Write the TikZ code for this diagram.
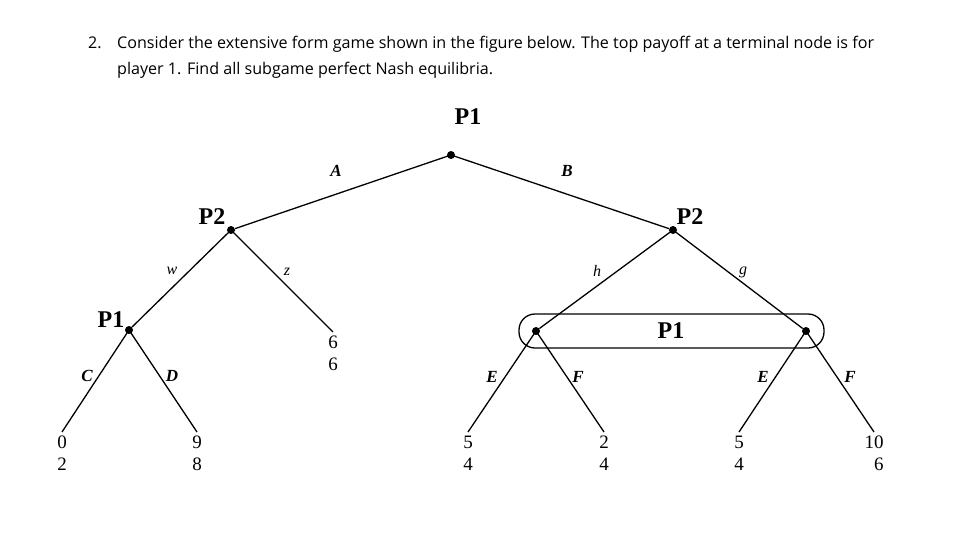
\documentclass[tikz,border=0pt]{standalone}
\usepackage{fontspec}
\setmainfont{Liberation Serif}
\newfontfamily\titlefont{Open Sans}
\begin{document}
\begin{tikzpicture}[x=1pt,y=-1pt,
  dotn/.style={circle,fill=black,inner sep=0pt,minimum size=8pt},
  plab/.style={font=\fontsize{24}{24}\selectfont\bfseries,inner sep=0pt},
  alab/.style={font=\fontsize{17}{17}\selectfont\bfseries\itshape,inner sep=0pt},
  slab/.style={font=\fontsize{16}{16}\selectfont\itshape,inner sep=0pt},
  pay/.style={font=\fontsize{19}{22}\selectfont,inner sep=0pt,align=center,anchor=north},
  ttl/.style={anchor=base west,inner sep=0pt,font=\titlefont\fontsize{16.1}{16.1}\selectfont},
  edge/.style={line width=1.3pt}]
\useasboundingbox (0,0) rectangle (964,536);
\node[ttl] (t1) at (88,48) {2.};
\node[ttl] (t2) at (117,48) {Consider the extensive form game shown in the figure below. The top payoff at a terminal node is for};
\node[ttl] (t3) at (117,74) {player 1. Find all subgame perfect Nash equilibria.};
% info set
\draw[line width=1.3pt,rounded corners=16pt] (519,314) rectangle (824,348);
\node[plab] (is) at (671,331) {P1};
% nodes
\node[dotn] (r) at (451,155) {};
\node[dotn] (p2l) at (231,230) {};
\node[dotn] (p1l) at (129,330) {};
\node[dotn] (p2r) at (673,230) {};
\node[dotn] (il) at (536,331) {};
\node[dotn] (ir) at (806,331) {};
\coordinate (lc) at (62,432);
\coordinate (ld) at (197,432);
\coordinate (lz) at (333,332);
\coordinate (le1) at (468,432);
\coordinate (lf1) at (604,432);
\coordinate (le2) at (739,432);
\coordinate (lf2) at (874,432);
\node[plab] (rl) at (468,117) {P1};
\node[plab] (p2ll) at (212,217) {P2};
\node[plab] (p1ll) at (111,320) {P1};
\node[plab] (p2rl) at (690,217) {P2};
\foreach \a/\b in {r/p2l,r/p2r,p2l/p1l,p2l/lz,p1l/lc,p1l/ld,p2r/il,p2r/ir,il/le1,il/lf1,ir/le2,ir/lf2}
  \draw[edge] (\a.center) -- (\b);
\node[alab] (la) at (336,171) {A};
\node[alab] (lb) at (567,171) {B};
\node[slab] (lw) at (172,271) {w};
\node[slab] (lzz) at (287,272) {z};
\node[slab] (lh) at (597,271) {h};
\node[slab] (lg) at (743,272) {g};
\node[alab] (lC) at (87,376) {C};
\node[alab] (lD) at (172,376) {D};
\node[alab] (lE1) at (492,377) {E};
\node[alab] (lF1) at (578,377) {F};
\node[alab] (lE2) at (763,377) {E};
\node[alab] (lF2) at (850,377) {F};
\node[pay] (pc) at (62,436) {0\\2};
\node[pay] (pd) at (197,436) {9\\8};
\node[pay] (pz) at (333,336) {6\\6};
\node[pay] (pe1) at (468,436) {5\\4};
\node[pay] (pf1) at (604,436) {2\\4};
\node[pay] (pe2) at (739,436) {5\\4};
\node[pay] (pf2) at (874,436) {10\\\hphantom{1}6};
\end{tikzpicture}
\end{document}
